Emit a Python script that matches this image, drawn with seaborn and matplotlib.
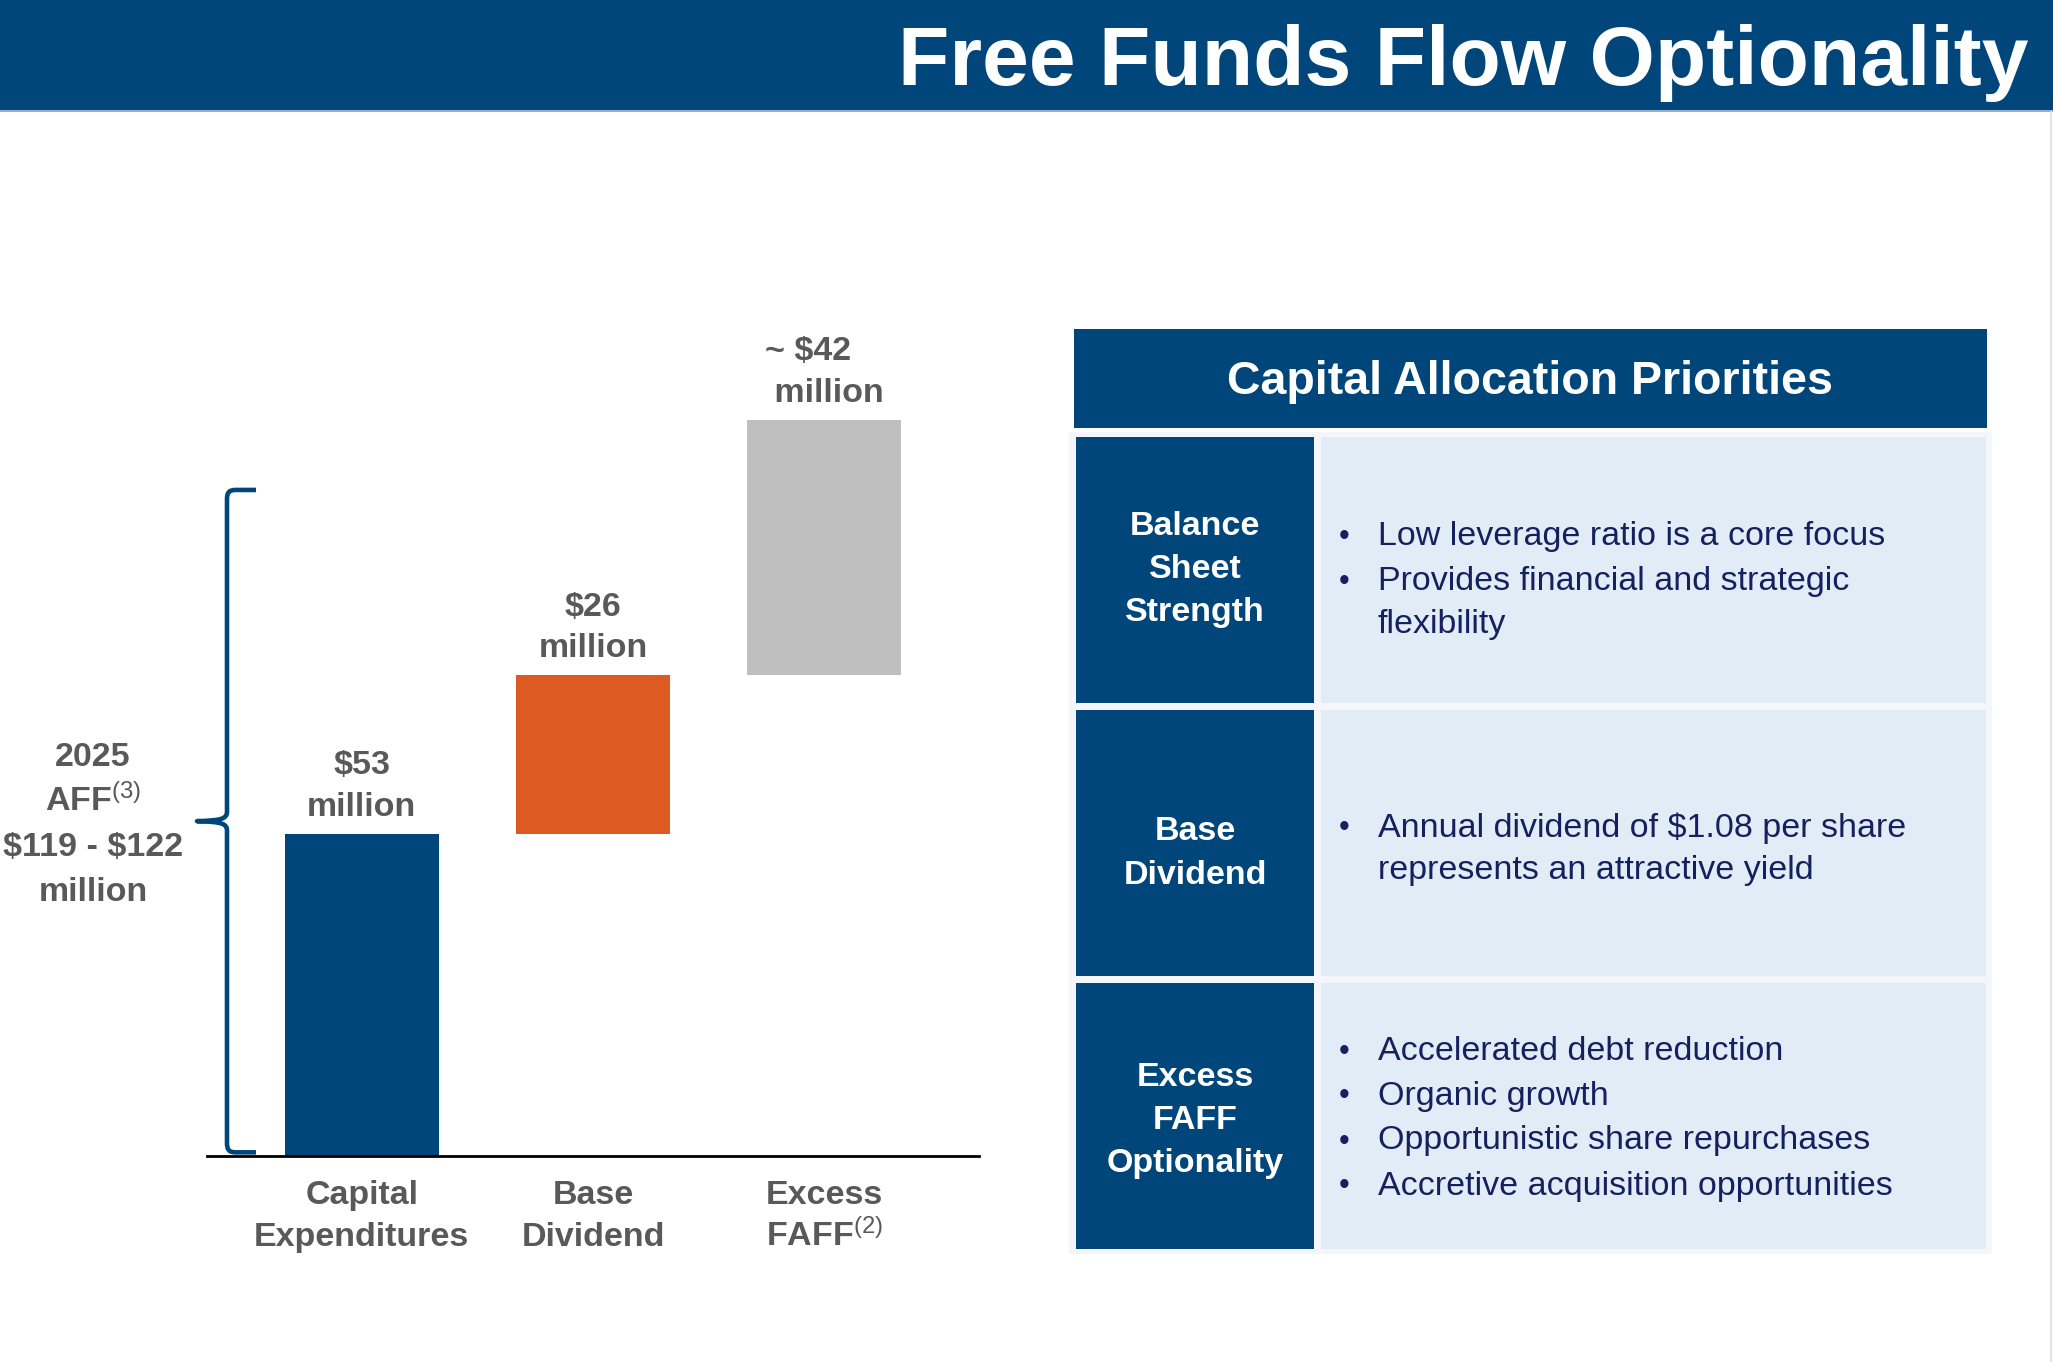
import matplotlib

matplotlib.use("Agg")
import matplotlib.pyplot as plt
import matplotlib.patches as mpatches
import matplotlib.transforms as mtransforms
from matplotlib.path import Path
import numpy as np
import pandas as pd
import seaborn as sns

# ---------------- data ----------------
categories = ["Capital Expenditures", "Base Dividend", "Excess FAFF"]
category_lines = [["Capital", "Expenditures"], ["Base", "Dividend"], ["Excess", "FAFF$^{(2)}$"]]
values = [53, 26, 42]  # $ millions
value_labels = ["\\$53\nmillion", "\\$26\nmillion", "~ \\$42\n million"]
label_align = ["center", "center", "left"]
bar_colors = ["#00467A", "#DD5A23", "#BFBFBF"]

aff_lines = ["2025", "AFF$^{(3)}$", "\\$119 - \\$122", "million"]
brace_low, brace_high = 0.6, 109.5  # brace span on the $ million scale

title = "Free Funds Flow Optionality"
table_title = "Capital Allocation Priorities"
row_labels = [
    ["Balance", "Sheet", "Strength"],
    ["Base", "Dividend"],
    ["Excess", "FAFF", "Optionality"],
]
row_bullets = [
    [["Low leverage ratio is a core focus"],
     ["Provides financial and strategic", "flexibility"]],
    [["Annual dividend of \\$1.08 per share", "represents an attractive yield"]],
    [["Accelerated debt reduction"], ["Organic growth"],
     ["Opportunistic share repurchases"], ["Accretive acquisition opportunities"]],
]

# ---------------- style ----------------
NAVY = "#00467A"
GREY_TXT = "#595959"
BULLET_TXT = "#14215F"
CELL_LIGHT = "#E2ECF6"
PANEL_BG = "#F4F6FC"
W, H = 2053, 1362
FS = 24.5

sns.set_theme(style="white")
plt.rcParams["font.family"] = ["Liberation Sans", "DejaVu Sans"]
plt.rcParams["mathtext.fontset"] = "custom"
plt.rcParams["mathtext.rm"] = "Liberation Sans"
plt.rcParams["mathtext.it"] = "Liberation Sans:italic"
plt.rcParams["mathtext.bf"] = "Liberation Sans:bold"

fig = plt.figure(figsize=(W / 100, H / 100), dpi=100, facecolor="white")

# background canvas in pixel units (y downwards)
bg = fig.add_axes([0, 0, 1, 1], zorder=0)
bg.set_xlim(0, W)
bg.set_ylim(H, 0)
bg.axis("off")

# header band
bg.add_patch(mpatches.Rectangle((0, 0), W, 110, color=NAVY, lw=0))
bg.plot([0, W], [110.5, 110.5], color="#8FB0CF", lw=1.5)
bg.text(2029, 85, title, ha="right", va="baseline", color="white",
        fontsize=60.5, fontweight="bold")
bg.plot([2051, 2051], [112, H], color="#E4E4E4", lw=1.5)

# ---------------- table ----------------
bg.add_patch(mpatches.Rectangle((1074, 329), 913, 99, color=NAVY, lw=0))
bg.text(1530, 394, table_title, ha="center", va="baseline", color="white",
        fontsize=33.5, fontweight="bold")
bg.add_patch(mpatches.Rectangle((1069, 432), 923, 822, color=PANEL_BG, lw=0))

row_tops = [437, 710, 983]
row_h = 266
label_shift = [-4, 7, 1]
bullet_shift = [7, 3, -1]
for top, lbl_lines, items, ls, bs in zip(row_tops, row_labels, row_bullets,
                                         label_shift, bullet_shift):
    bg.add_patch(mpatches.Rectangle((1076, top), 238, row_h, color=NAVY, lw=0))
    bg.add_patch(mpatches.Rectangle((1321, top), 665, row_h, color=CELL_LIGHT, lw=0))
    mid = top + row_h / 2
    # row label
    n = len(lbl_lines)
    for i, line in enumerate(lbl_lines):
        yc = mid + ls + (i - (n - 1) / 2) * 43
        bg.text(1195, yc + 12, line, ha="center", va="baseline", color="white",
                fontsize=FS, fontweight="bold")
    # bullets
    ys, firsts = [], []
    y = 0
    for j, item in enumerate(items):
        for k, line in enumerate(item):
            if j or k:
                y += 43 if k else 45
            ys.append(y)
            firsts.append(k == 0)
    ys = np.array(ys, dtype=float)
    ys += mid + bs - (ys[0] + ys[-1]) / 2
    flat = [ln for item in items for ln in item]
    for yc, line, first in zip(ys, flat, firsts):
        if first:
            bg.text(1344, yc + 12, "•", ha="center", va="baseline",
                    color=BULLET_TXT, fontsize=22)
        bg.text(1378, yc + 12, line, ha="left", va="baseline",
                color=BULLET_TXT, fontsize=FS)

# ---------------- waterfall bars ----------------
df = pd.DataFrame({"category": categories, "value": values})
bottoms = np.concatenate([[0], np.cumsum(values)[:-1]])

ax = fig.add_axes([207 / W, 206 / H, 772 / W, 736 / H], zorder=2)
ax.set_facecolor("none")
sns.barplot(data=df, x="category", y="value", hue="category",
            palette=dict(zip(categories, bar_colors)), width=0.667,
            saturation=1, legend=False, ax=ax)
for bar, b in zip(ax.patches, bottoms):
    bar.set_y(b)
    bar.set_linewidth(0)
ax.set_xlim(-0.67, 2.67)
ax.set_ylim(0, sum(values))

for i, (b, v, txt, al) in enumerate(zip(bottoms, values, value_labels, label_align)):
    ax.annotate(txt, (i, b + v), xytext=(0, 8), textcoords="offset points",
                ha="center", va="bottom", multialignment=al, linespacing=1.45,
                fontsize=FS, fontweight="bold", color=GREY_TXT)

sns.despine(ax=ax, left=True)
ax.spines["bottom"].set_color("black")
ax.spines["bottom"].set_linewidth(2)
ax.set_yticks([])
ax.set_xlabel("")
ax.set_ylabel("")
ax.tick_params(axis="x", length=0)
ax.set_xticklabels([])
# category labels, one baseline per line so the superscript does not shift rows
for i, lines in enumerate(category_lines):
    for k, line in enumerate(lines):
        ax.annotate(line, (i, 0), xytext=(0, -48 - 42 * k), textcoords="offset pixels",
                    ha="center", va="baseline", fontsize=FS, fontweight="bold",
                    color=GREY_TXT, annotation_clip=False)

# brace + AFF annotation (x in page pixels, y in $ millions)
trans = mtransforms.blended_transform_factory(bg.transData, ax.transData)
mid_v = (brace_low + brace_high) / 2
xr, xv, xt = 256, 227, 197
verts = [
    (xr, brace_high), (236, brace_high),
    (229, brace_high), (xv, brace_high - 0.4), (xv, brace_high - 1.6),
    (xv, mid_v + 1.6),
    (xv, mid_v + 0.4), (222, mid_v + 0.1), (xt, mid_v),
    (222, mid_v - 0.1), (xv, mid_v - 0.4), (xv, mid_v - 1.6),
    (xv, brace_low + 1.6),
    (xv, brace_low + 0.4), (229, brace_low), (236, brace_low),
    (xr, brace_low),
]
codes = ([Path.MOVETO, Path.LINETO] + [Path.CURVE4] * 3 + [Path.LINETO]
         + [Path.CURVE4] * 6 + [Path.LINETO] + [Path.CURVE4] * 3 + [Path.LINETO])
ax.add_patch(mpatches.PathPatch(Path(verts, codes), transform=trans, fill=False,
                                edgecolor=NAVY, lw=3.3, clip_on=False,
                                capstyle="butt", joinstyle="round"))
n = len(aff_lines)
for k, line in enumerate(aff_lines):
    dy = (k - (n - 1) / 2) * 45
    ax.annotate(line, (93, mid_v), xycoords=trans, xytext=(0, -dy - 12),
                textcoords="offset pixels", ha="center", va="baseline",
                fontsize=FS, fontweight="bold", color=GREY_TXT,
                annotation_clip=False)

fig.savefig("out.png", dpi=100)
